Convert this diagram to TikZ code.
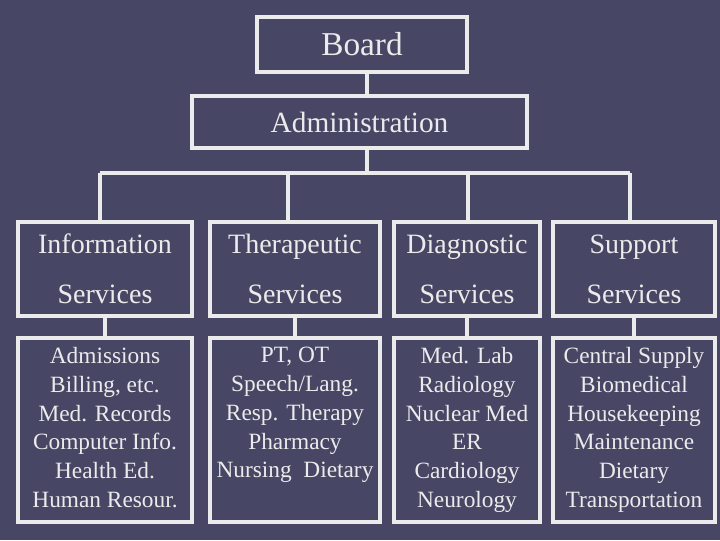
\documentclass[tikz,border=0pt]{standalone}
\usepackage{fontspec}
\setmainfont{Liberation Serif}
\begin{document}
\begin{tikzpicture}[x=0.75pt,y=-0.75pt,
  ln/.style={draw=white!92!black,line width=3.5pt*0.75},
  bx/.style={ln,minimum width=#1*0.75pt,inner sep=0pt,align=center,text=white!92!black},
  hd/.style={font=\fontsize{21}{37.5}\selectfont},
  ls/.style={font=\fontsize{17.5}{21.6}\selectfont,text=white!92!black,align=center,inner sep=0pt}]
\fill[fill={rgb,255:red,71;green,71;blue,101}] (0,0) rectangle (720,540);
\node[bx=210,minimum height=55*0.75pt,font=\fontsize{25}{27}\selectfont] (board) at (362,44.5) {Board};
\node[bx=335,minimum height=52*0.75pt,font=\fontsize{22}{24}\selectfont] (adm) at (359.5,122) {Administration};
\coordinate (bus) at (367,173);
\draw[ln] (board.south -| 367,0) -- (adm.north -| 367,0);
\draw[ln] (adm.south -| 367,0) -- (bus);
\draw[ln] (100,173) -- (630,173);
\foreach \n/\cx/\w/\dx/\a/\b/\items in {
 i/105/174/100/Information/Services/{Admissions\\Billing, etc.\\Med. Records\\Computer Info.\\Health Ed.\\Human Resour.},
 t/295/170/288/Therapeutic/Services/{PT, OT\\Speech/Lang.\\Resp. Therapy\\Pharmacy\\Nursing\ \ Dietary},
 d/467/146/468/Diagnostic/Services/{Med. Lab\\Radiology\\Nuclear Med\\ER\\Cardiology\\Neurology},
 s/634/162/630/Support/Services/{Central Supply\\Biomedical\\Housekeeping\\Maintenance\\Dietary\\Transportation}}{
 \node[bx=\w,minimum height=184*0.75pt,anchor=north] (l\n) at (\cx,336) {};
 \node[bx=\w,minimum height=94*0.75pt,hd] (h\n) at (\cx,269) {\a\\\b};
 \node[ls,anchor=north] (x\n) at (\cx,347) {\items};
 \coordinate (t\n) at (\dx,173);
 \draw[ln] (t\n) -- (t\n |- h\n.north);
 \draw[ln] (h\n) -- (l\n);
}
\path (0,0) (720,540);
\end{tikzpicture}
\end{document}
